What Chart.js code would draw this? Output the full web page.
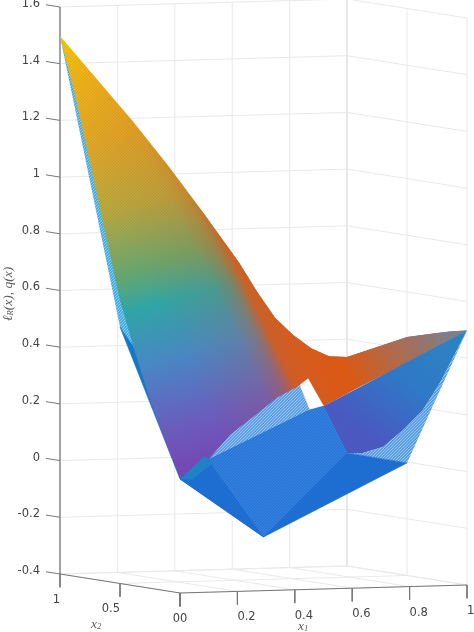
<!DOCTYPE html>
<html>
<head>
<meta charset="utf-8">
<style>
  html, body { margin: 0; padding: 0; background: #fff; }
  canvas { display: block; }
</style>
<script src="https://cdn.jsdelivr.net/npm/chart.js@4"></script>
</head>
<body>
<canvas id="surfaceChart" width="474" height="632"></canvas>
<script>
// axis ticks
const zTicks = [-0.4, -0.2, 0, 0.2, 0.4, 0.6, 0.8, 1, 1.2, 1.4, 1.6];
const x1Ticks = [0, 0.2, 0.4, 0.6, 0.8, 1];
const x2Ticks = [0, 0.5, 1];

// upper surface boundary, at these grid steps
const gridSteps = [0, 0.125, 0.25, 0.375, 0.5, 0.625, 0.75, 0.875, 1];
const ridgeSteps = [0, 0.125, 0.25, 0.375, 0.5, 0.5625, 0.625, 0.6875, 0.75, 0.8125, 0.875, 0.9375, 1];
const upperEdgeX1Zero = [0.006, 0.128, 0.264, 0.425, 0.6, 0.831, 1.066, 1.298, 1.498]; // x1=0, by x2
const upperEdgeX2One = [1.498, 1.346, 1.194, 1.032, 0.859, 0.769, 0.679, 0.575, 0.482, 0.42, 0.372, 0.342, 0.337]; // x2=1, by x1
const upperEdgeX1One = [0.498, 0.487, 0.472, 0.457, 0.441, 0.415, 0.389, 0.363, 0.337]; // x1=1, by x2
const upperEdgeX2Zero = [0.006, 0.07, 0.13, 0.19, 0.245, 0.31, 0.37, 0.43, 0.498]; // x2=0, by x1

// lower surface vertices [x1, x2, z]
const lowerCornerA = [0, 1, 1.498];
const lowerCornerB = [0, 0.5, 0.505];
const lowerCornerC = [0, 0, 0.002];
const lowerPit = [0.5, 0.5, -0.25];
const lowerEdgeMid = [0.5, 0, 0.245];
const lowerCornerD = [1, 0.5, -0.003];
const lowerCornerE = [1, 0, 0.498];
const lowerEdgeLeft = [0.098, 0, 0.066];
const lowerEdgeInner = [0.453, 0, 0.233];
const lowerInnerRight = [0.686, 0.25, 0.058];
const lowerSliver = [[0.087, 0, 0.081], [0.115, 0, 0.055], [0.042, 0, -0.002]];

// curved rims of the see-through parts [x1, x2, z]
const rimLeft = [[0.216, 0.1, 0.145], [0.296, 0.1, 0.206], [0.38, 0.1, 0.271], [0.46, 0.1, 0.314]];
const rimRight = [[0.742, 0.25, 0.056], [0.812, 0.25, 0.075], [0.882, 0.25, 0.133], [0.951, 0.25, 0.202], [0.958, 0.125, 0.305]];
const gapTop = [0.488, 0.1, 0.335];

const SKEW_H = 120 / 287;
const PX = 283.5;

function project(p) {
  return {
    x: p[0] - SKEW_H * p[1],
    y: p[2] + (19 * p[1] + 8 * p[0] - 22) / PX
  };
}

const layers = [];

function addLine(points, color, width) {
  layers.push({
    data: points.map(project),
    showLine: true, pointRadius: 0, fill: false, clip: false,
    borderColor: color, borderWidth: width
  });
}

function addPolygon(points, fillColor, edgeColor) {
  const closed = points.concat([points[0]]);
  layers.push({
    data: closed.map(project),
    showLine: true, pointRadius: 0, fill: 'shape', clip: false, tension: 0,
    backgroundColor: fillColor,
    borderColor: edgeColor || 'rgba(0,0,0,0)', borderWidth: edgeColor ? 0.6 : 0
  });
}

function pixelOf(chart, p) {
  const q = project(p);
  return [chart.scales.x.getPixelForValue(q.x), chart.scales.y.getPixelForValue(q.y)];
}

function linear(chart, a, b, stops) {
  const g = chart.ctx.createLinearGradient(a[0], a[1], b[0], b[1]);
  stops.forEach(s => g.addColorStop(s[0], s[1]));
  return g;
}

// fine weave of the dense mesh
function meshPattern(base, light) {
  const tile = document.createElement('canvas');
  tile.width = 3; tile.height = 3;
  const c = tile.getContext('2d');
  c.fillStyle = base;
  c.fillRect(0, 0, 3, 3);
  c.fillStyle = light;
  c.fillRect(0, 0, 1, 1);
  c.fillRect(2, 1, 1, 1);
  c.fillRect(1, 2, 1, 1);
  return c.createPattern(tile, 'repeat');
}

// back walls and floor
const gridColor = '#e9e9e9';
zTicks.forEach(z => addLine([[0, 1, z], [1, 1, z], [1, 0, z]], gridColor, 1));
x1Ticks.forEach(t => {
  addLine([[t, 1, -0.4], [t, 1, 1.6]], t === 1 ? '#e2e2e2' : gridColor, t === 1 ? 1.6 : 1);
  addLine([[t, 0, -0.4], [t, 1, -0.4]], gridColor, 1);
});
x2Ticks.forEach(t => {
  addLine([[1, t, -0.4], [1, t, 1.6]], gridColor, 1);
  addLine([[0, t, -0.4], [1, t, -0.4]], gridColor, 1);
});

// axes and tick marks
addLine([[0, 1, -0.4], [0, 1, 1.6]], '#a3a3a3', 2);
addLine([[0, 1, -0.4], [0, 0, -0.4], [1, 0, -0.4]], '#777777', 1);
zTicks.forEach(z => addLine([[0, 1, z], [0, 1.117, z]], '#777777', 1));
x1Ticks.forEach(t => addLine([[t, 0, -0.4], [t, 0, -0.447]], '#777777', 1));
x2Ticks.forEach(t => addLine([[0, t, -0.4], [0, t, -0.447]], '#777777', 1));

// lower surface, behind the sheet
addPolygon([lowerCornerA, lowerCornerB, lowerPit], meshPattern('#45aee2', '#86cdee'));
addPolygon([lowerCornerB, lowerCornerC, lowerPit], '#1478c8', '#1478c8');

// upper sheet outline
const upperOutline = [].concat(
  gridSteps.map((t, i) => [0, t, upperEdgeX1Zero[i]]),
  ridgeSteps.map((t, i) => [t, 1, upperEdgeX2One[i]]).slice(1),
  gridSteps.map((t, i) => [1, t, upperEdgeX1One[i]]).reverse().slice(1),
  gridSteps.map((t, i) => [t, 0, upperEdgeX2Zero[i]]).reverse().slice(1, -1)
);
addPolygon(upperOutline, ctx => {
  const chart = ctx.chart;
  if (!chart.chartArea) return '#888';
  return linear(chart, pixelOf(chart, [0, 0, upperEdgeX1Zero[0]]), pixelOf(chart, [0, 1, upperEdgeX1Zero[8]]), [
    [0, '#7a45b8'], [0.12, '#6a60c0'], [0.25, '#4a88c8'], [0.38, '#30a8a8'],
    [0.46, '#68a870'], [0.6, '#b8a840'], [0.75, '#dfa828'], [0.9, '#f0b818'], [1, '#f8cf00']
  ]);
});
addPolygon(upperOutline, ctx => {
  const chart = ctx.chart;
  if (!chart.chartArea) return 'rgba(0,0,0,0)';
  const a = pixelOf(chart, [0.8125, 1, upperEdgeX2One[9]]);
  const n = [0.9, -0.436];
  return linear(chart, [a[0] - 110 * n[0], a[1] - 110 * n[1]], [a[0] + 145 * n[0], a[1] + 145 * n[1]], [
    [0, 'rgba(222,92,24,0)'], [0.169, 'rgba(222,92,24,0.1)'], [0.231, 'rgba(222,92,24,0.15)'],
    [0.29, 'rgba(222,92,24,0.35)'], [0.314, 'rgba(222,92,24,0.5)'], [0.349, 'rgba(222,92,24,0.9)'],
    [0.431, 'rgba(222,92,24,0.97)'], [0.549, 'rgba(224,90,18,1)'], [1, 'rgba(125,130,145,1)']
  ]);
});
addPolygon(upperOutline, meshPattern('rgba(0,0,0,0)', 'rgba(40,40,40,0.07)'));

// front parts of the lower surface
addPolygon([lowerEdgeMid, lowerCornerE].concat(rimRight.slice().reverse(), [lowerInnerRight]), ctx => {
  const chart = ctx.chart;
  if (!chart.chartArea) return '#2c80c0';
  return linear(chart, pixelOf(chart, lowerCornerE), pixelOf(chart, rimRight[1]), [
    [0, '#2a86c0'], [0.55, '#2f78c6'], [1, '#4a58c0']
  ]);
});
addPolygon([lowerInnerRight].concat(rimRight, [lowerCornerE, lowerCornerD]), meshPattern('#5a9ee2', '#98c4f0'));
addPolygon([lowerEdgeLeft].concat(rimLeft, [lowerEdgeInner]), meshPattern('#5c9fe6', '#9cc5f2'));
addPolygon([rimLeft[3], gapTop, lowerEdgeMid, lowerEdgeInner], '#ffffff', '#ffffff');
addPolygon([lowerCornerC, lowerEdgeLeft, lowerEdgeInner, lowerEdgeMid, lowerInnerRight, lowerCornerD, lowerPit], meshPattern('#1c6ccf', '#2172d4'), '#1c6ccf');
addPolygon([lowerEdgeLeft, lowerEdgeInner, lowerEdgeMid, lowerInnerRight, lowerPit], meshPattern('#2677d9', '#3a84dd'));
addPolygon([lowerCornerC].concat(lowerSliver), '#1f82c6');

const tickFont = '11.5px "DejaVu Sans"';
const textColor = '#444444';

const axisText = {
  id: 'axisText',
  afterDraw(chart) {
    const c = chart.ctx;
    c.save();
    c.fillStyle = textColor;
    c.font = tickFont;
    c.textBaseline = 'middle';
    c.textAlign = 'left';
    x1Ticks.forEach(t => {
      const p = pixelOf(chart, [t, 0, -0.4]);
      c.fillText(String(t), p[0], p[1] + 26);
    });
    c.textAlign = 'right';
    x2Ticks.forEach(t => {
      const p = pixelOf(chart, [0, t, -0.4]);
      c.fillText(String(t), p[0], p[1] + 26);
    });

    c.fillStyle = '#5c5c5c';
    c.textAlign = 'left';
    function mathLabel(x, y, parts) {
      let at = x;
      parts.forEach(part => {
        c.font = part[1] ? 'italic 8.5px "Liberation Serif"' : 'italic 13.5px "Liberation Serif"';
        c.fillText(part[0], at, y + (part[1] ? 3 : 0));
        at += c.measureText(part[0]).width;
      });
    }
    mathLabel(91, 624, [['x', false], ['2', true]]);
    mathLabel(298, 626, [['x', false], ['1', true]]);
    c.translate(8, 321);
    c.rotate(-Math.PI / 2);
    mathLabel(0, 0, [['ℓ', false], ['R', true], ['(x), q(x)', false]]);
    c.restore();
  }
};

new Chart(document.getElementById('surfaceChart'), {
  type: 'scatter',
  data: { datasets: layers.slice().reverse() },
  plugins: [axisText],
  options: {
    responsive: false,
    devicePixelRatio: 1,
    animation: false,
    events: [],
    layout: { padding: { left: 0, right: 7, top: 0, bottom: 0 } },
    plugins: { legend: { display: false }, tooltip: { enabled: false }, title: { display: false } },
    scales: {
      x: { type: 'linear', display: false, min: -SKEW_H, max: 1 },
      y: {
        type: 'linear',
        min: -0.6152,
        max: 1.6141,
        grid: { display: false, drawTicks: false },
        border: { display: false },
        afterFit(scale) { scale.width = 60; scale.paddingTop = 0; scale.paddingBottom = 0; },
        afterBuildTicks(scale) { scale.ticks = zTicks.map(v => ({ value: v })); },
        ticks: {
          autoSkip: false,
          padding: 20,
          color: textColor,
          font: { family: 'DejaVu Sans', size: 11.5 },
          callback: v => String(v)
        }
      }
    }
  }
});
</script>
</body>
</html>
